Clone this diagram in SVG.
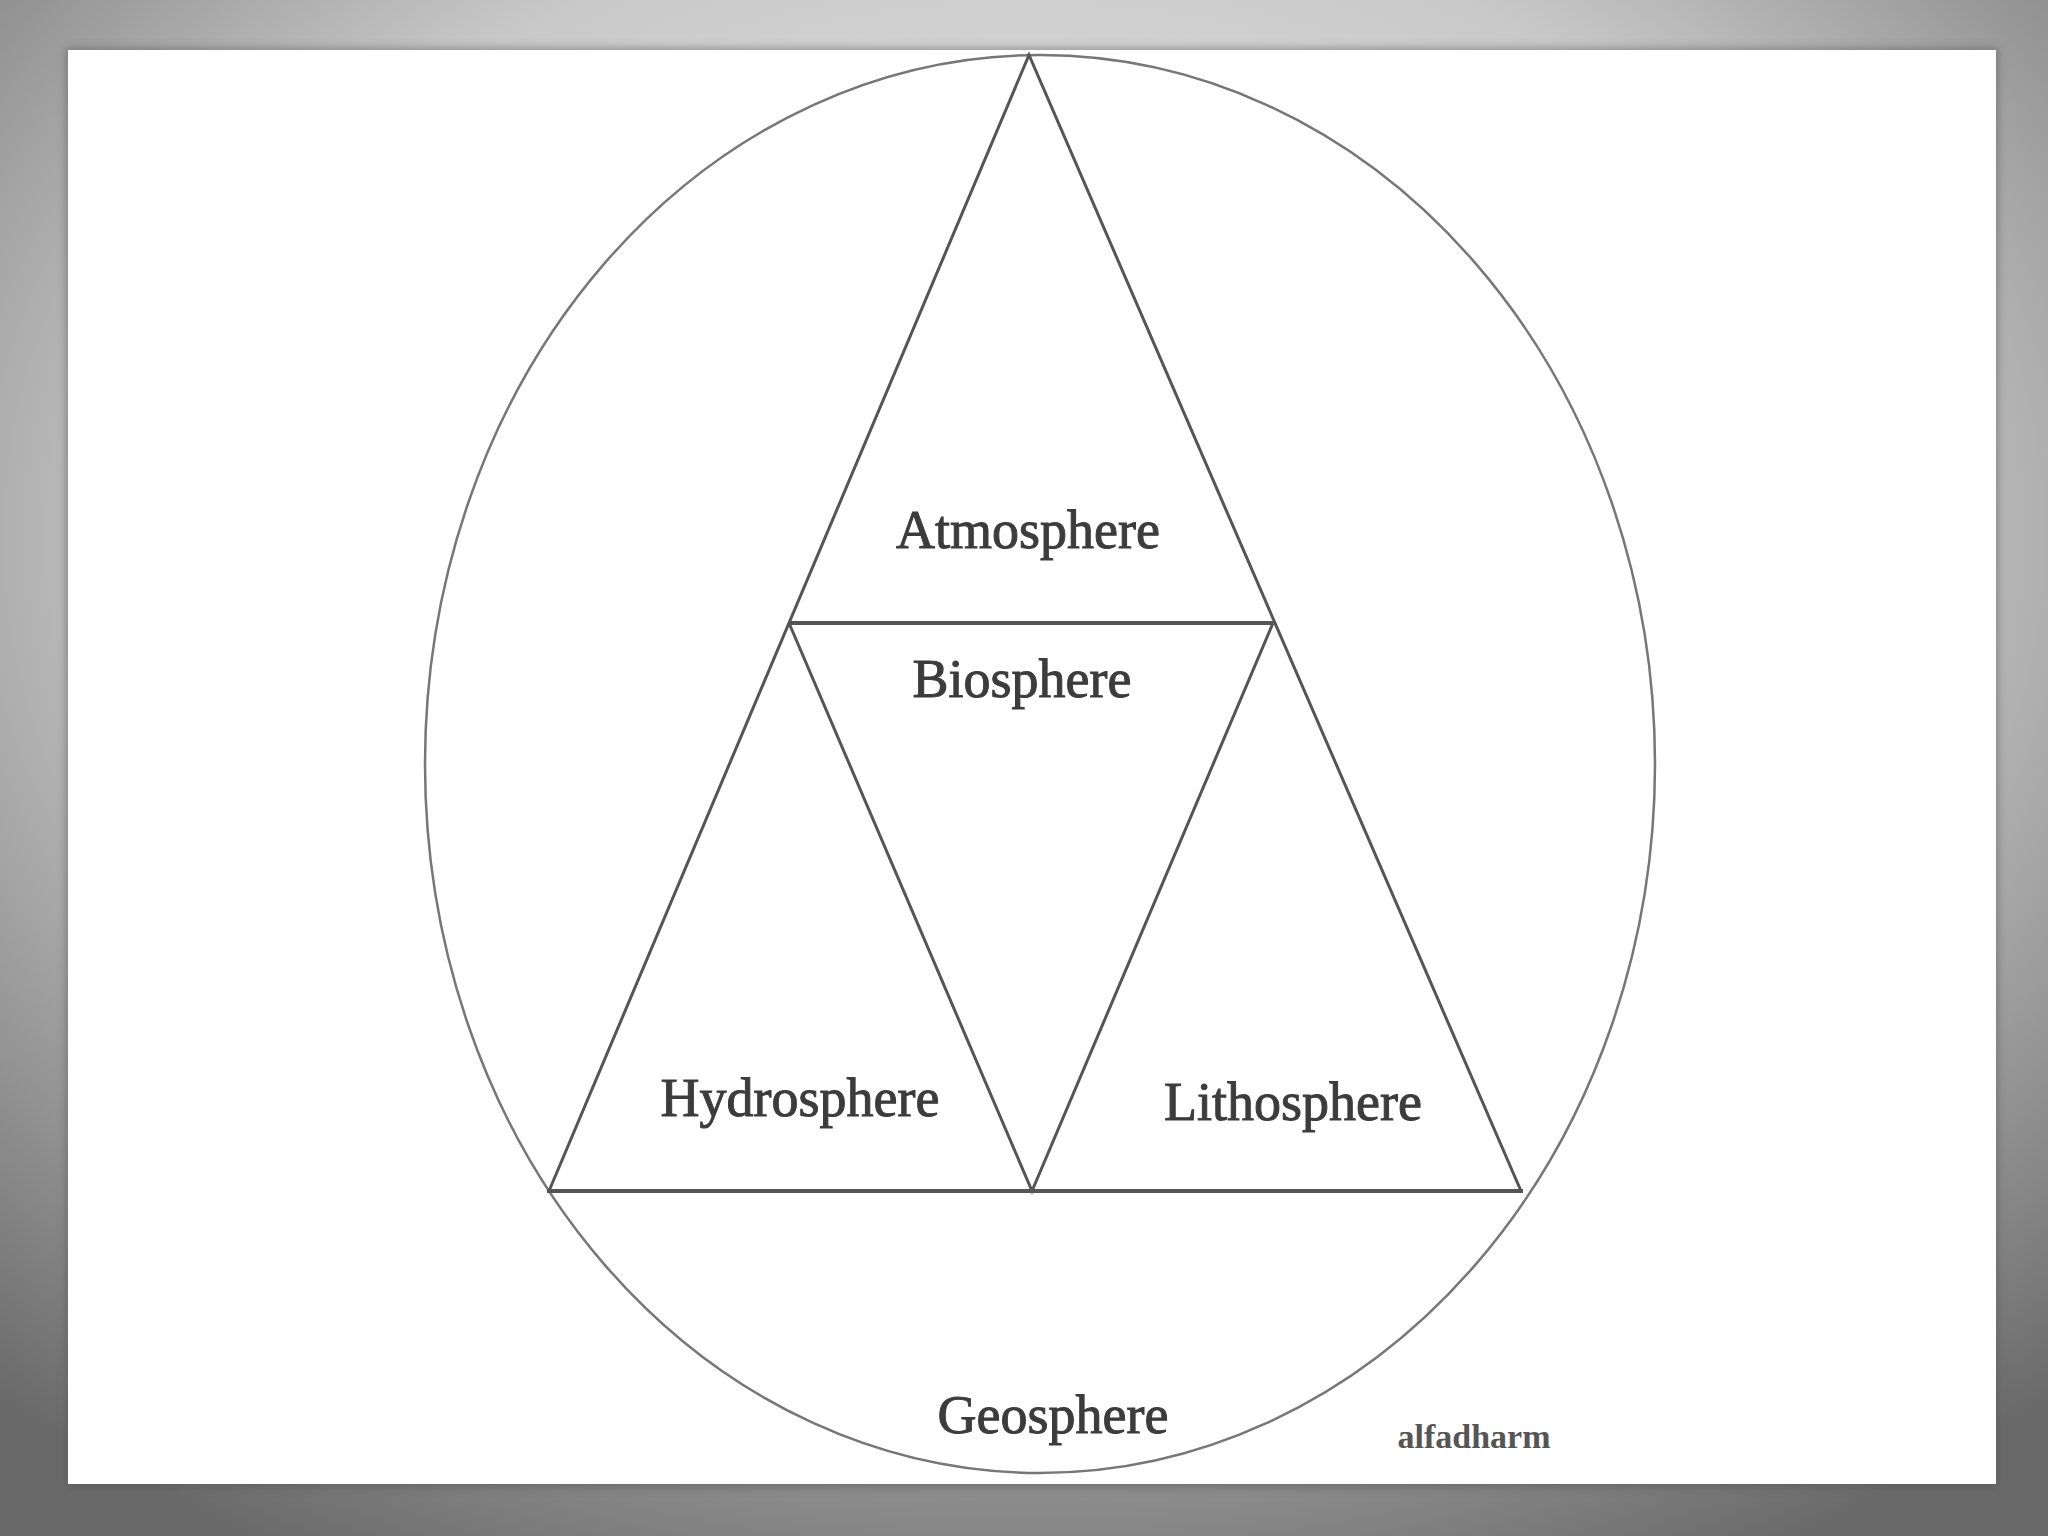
<svg xmlns="http://www.w3.org/2000/svg" width="2048" height="1536" viewBox="0 0 2048 1536">
<defs>
<radialGradient id="frame" cx="0.5" cy="0.35" r="0.75">
<stop offset="0" stop-color="#f2f2f2"/>
<stop offset="0.55" stop-color="#c8c8c8"/>
<stop offset="1" stop-color="#6a6a6a"/>
</radialGradient>
<filter id="sh" x="-5%" y="-5%" width="110%" height="110%">
<feGaussianBlur stdDeviation="4"/>
</filter>
</defs>
<style>
.ln{stroke:#555;stroke-width:3;fill:none;stroke-linejoin:miter}
.hz{stroke:#555;stroke-width:4;fill:none}
.lbl{font-family:"Liberation Serif","DejaVu Serif",serif;font-size:54px;fill:#3c3c3c;stroke:#3c3c3c;stroke-width:1;text-anchor:middle}
.wm{font-family:"Liberation Serif","DejaVu Serif",serif;font-size:34px;font-weight:bold;fill:#555;text-anchor:middle}
</style>
<rect x="0" y="0" width="2048" height="1536" fill="url(#frame)"/>
<rect x="66" y="48" width="1932" height="1440" fill="#555" opacity="0.5" filter="url(#sh)"/>
<rect x="68" y="50" width="1928" height="1434" fill="#ffffff"/>
<g id="connectors">
<ellipse cx="1040" cy="764" rx="615" ry="709" fill="none" stroke="#777" stroke-width="2.5"/>
<polyline class="ln" points="549,1191 1029,55 1521,1191"/>
<line class="hz" x1="547" y1="1191" x2="1523" y2="1191"/>
<line class="hz" x1="789" y1="623" x2="1273" y2="623"/>
<polyline class="ln" points="789,623 1032,1191 1273,623"/>
</g>
<g id="atmosphere"><text class="lbl" x="1028" y="548">Atmosphere</text></g>
<g id="biosphere"><text class="lbl" x="1022" y="697">Biosphere</text></g>
<g id="hydrosphere"><text class="lbl" x="800" y="1116">Hydrosphere</text></g>
<g id="lithosphere"><text class="lbl" x="1293" y="1120">Lithosphere</text></g>
<g id="geosphere"><text class="lbl" x="1053" y="1433">Geosphere</text></g>
<g id="watermark"><text class="wm" x="1474" y="1448">alfadharm</text></g>
</svg>
